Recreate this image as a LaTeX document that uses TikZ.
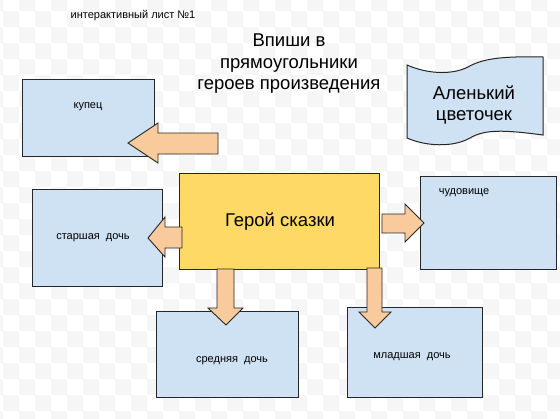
\documentclass[tikz,border=0pt]{standalone}
\usepackage{fontspec}
\setmainfont{Liberation Sans}
\definecolor{boxblue}{HTML}{CFE2F3}
\definecolor{heroyellow}{HTML}{FFD966}
\definecolor{arroworange}{HTML}{F9CB9C}
\definecolor{edge}{HTML}{262626}
\definecolor{checker}{HTML}{F6F6F6}
\tikzset{
  bluebox/.style={draw=edge, line width=1pt, fill=boxblue, anchor=north west, inner sep=0pt},
  herobox/.style={draw=edge, line width=1pt, fill=heroyellow, anchor=north west, inner sep=0pt},
  blockarrow/.style={draw=edge, line width=0.9pt, fill=arroworange, line join=miter},
  smalltext/.style={font=\fontsize{11}{13}\selectfont, inner sep=0pt},
  bigtext/.style={font=\fontsize{18.5}{21.5}\selectfont, align=center, inner sep=0pt},
}
\begin{document}
\begin{tikzpicture}[x=1pt,y=-1pt]
\useasboundingbox (0,0) rectangle (560,418);
\begin{scope}
\clip (0,0) rectangle (560,418);
\foreach \cx in {-29,3,...,560} {
  \foreach \cy in {-21,11,...,418} {
    \fill[checker] (\cx,\cy) rectangle ++(16,16);
    \fill[checker] (\cx+16,\cy+16) rectangle ++(16,16);
  }
}
\end{scope}

% header texts
\node[smalltext] (sheet) at (133,16) {интерактивный лист №1};
\node[bigtext] (title) at (289,64) {Впиши в\\прямоугольники\\героев произведения};

% scroll
\draw[draw=edge, line width=1pt, fill=boxblue]
  (407,65) .. controls (425,73) and (450,76) .. (468,67)
  .. controls (482,59) and (500,56) .. (543,57)
  -- (543,135)
  .. controls (505,130) and (485,129) .. (470,138)
  .. controls (452,148) and (425,146) .. (407,138) -- cycle;
\node[bigtext] (flower) at (474,105) {Аленький\\цветочек};

% boxes
\node[bluebox, minimum width=132pt, minimum height=77pt] (merchant) at (22,79) {};
\node[bluebox, minimum width=130pt, minimum height=97pt] (elder) at (32,189) {};
\node[bluebox, minimum width=136pt, minimum height=93pt] (beast) at (420,176) {};
\node[bluebox, minimum width=142pt, minimum height=86pt] (middle) at (156,311) {};
\node[bluebox, minimum width=135pt, minimum height=90pt] (youngest) at (347,307) {};
\node[herobox, minimum width=200pt, minimum height=96pt] (hero) at (179,173) {};
\node[bigtext] (herotext) at (280,222) {Герой сказки};

% labels
\node[smalltext] (lmerchant) at (88,107) {купец};
\node[smalltext] (lelder) at (93,238) {старшая\ \ дочь};
\node[smalltext] (lbeast) at (464,193) {чудовище};
\node[smalltext] (lmiddle) at (232,361) {средняя\ \ дочь};
\node[smalltext] (lyoungest) at (412,357) {младшая\ \ дочь};

% block arrows
\draw[blockarrow] (128,143) -- (158,123) -- (158,133) -- (218,133) -- (218,154) -- (158,154) -- (158,163) -- cycle;
\draw[blockarrow] (148,238) -- (165,217) -- (165,227) -- (182,227) -- (182,248) -- (165,248) -- (165,257) -- cycle;
\draw[blockarrow] (424,223) -- (405,204) -- (405,214) -- (382,214) -- (382,233) -- (405,233) -- (405,242) -- cycle;
\draw[blockarrow] (226,325) -- (208,308) -- (217,308) -- (217,269) -- (234,269) -- (234,308) -- (243,308) -- cycle;
\draw[blockarrow] (375,328) -- (359,312) -- (367,312) -- (367,268) -- (382,268) -- (382,312) -- (391,312) -- cycle;
\end{tikzpicture}
\end{document}
